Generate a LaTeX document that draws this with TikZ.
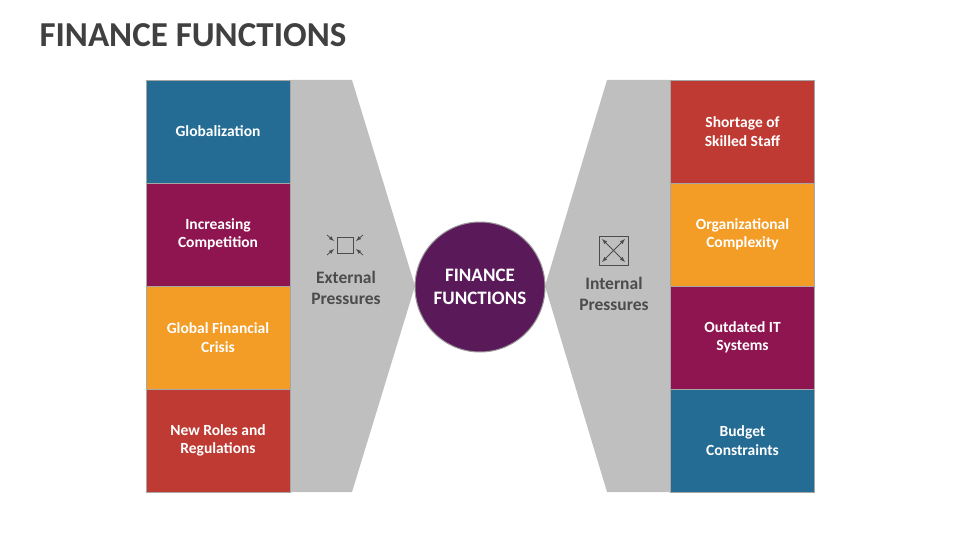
\documentclass[tikz,border=0pt]{standalone}
\usepackage{fontspec}
\setmainfont{Carlito}
\begin{document}
\begin{tikzpicture}[x=1pt,y=-1pt,
 box/.style={draw=gray!70,line width=0.6pt,minimum width=144pt,minimum height=103pt,inner sep=0pt,text=white,font=\fontsize{15.5}{18.5}\selectfont\bfseries,align=center},
 lbl/.style={text=black!70,font=\fontsize{17.5}{20.5}\selectfont\bfseries,align=center},
 ic/.style={draw=black!70,line width=1pt},
 ar/.style={-latex,black!70,line width=0.8pt}]
\definecolor{cblue}{HTML}{256C94}
\definecolor{cmag}{HTML}{8E1550}
\definecolor{corg}{HTML}{F39C26}
\definecolor{cred}{HTML}{BE3A32}
\definecolor{cgray}{HTML}{BFBFBF}
\definecolor{cpur}{HTML}{5A1A5A}
\useasboundingbox (0,0) rectangle (960,540);
\node[anchor=west,text=black!75,font=\fontsize{35}{40}\selectfont\bfseries] (title) at (36,35) {FINANCE FUNCTIONS};
\fill[cgray] (290,80) -- (352,80) -- (415,286) -- (352,492) -- (290,492) -- cycle;
\fill[cgray] (670,80) -- (607,80) -- (545,286) -- (607,492) -- (670,492) -- cycle;
\node[box,fill=cblue] (l1) at (218,131.5) {Globalization};
\node[box,fill=cmag] (l2) at (218,234.5) {Increasing\\Competition};
\node[box,fill=corg] (l3) at (218,337.5) {Global Financial\\Crisis};
\node[box,fill=cred] (l4) at (218,440.5) {New Roles and\\Regulations};
\node[box,fill=cred] (r1) at (742.5,131.5) {Shortage of\\Skilled Staff};
\node[box,fill=corg] (r2) at (742.5,234.5) {Organizational\\Complexity};
\node[box,fill=cmag] (r3) at (742.5,337.5) {Outdated IT\\Systems};
\node[box,fill=cblue] (r4) at (742.5,440.5) {Budget\\Constraints};
\node[circle,fill=cpur,draw=gray!80,line width=1pt,minimum size=130pt,text=white,font=\fontsize{19}{23}\selectfont\bfseries,align=center] (c) at (480,287) {FINANCE\\FUNCTIONS};
\node[lbl] (ext) at (346,288) {External\\Pressures};
\node[lbl] (int) at (614,294) {Internal\\Pressures};
% compress icon
\draw[ic] (337,237) rectangle (353,253);
\draw[ar] (327,235) -- (334,241);
\draw[ar] (363,235) -- (356,241);
\draw[ar] (327,255) -- (334,249);
\draw[ar] (363,255) -- (356,249);
% expand icon
\draw[ic] (599,236) rectangle (628,265);
\draw[ar] (613.5,250.5) -- (602,239);
\draw[ar] (613.5,250.5) -- (625,239);
\draw[ar] (613.5,250.5) -- (602,262);
\draw[ar] (613.5,250.5) -- (625,262);
\end{tikzpicture}
\end{document}
